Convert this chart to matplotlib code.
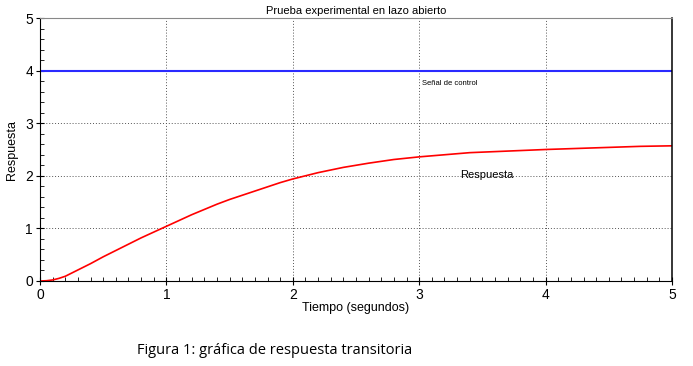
import matplotlib
matplotlib.use('Agg')
import matplotlib.pyplot as plt
from matplotlib.ticker import MultipleLocator

plt.rcParams['font.family'] = ['Liberation Sans', 'DejaVu Sans']

# Data
tiempo = [0, 0.05, 0.1, 0.15, 0.2, 0.25, 0.3, 0.4, 0.5, 0.6, 0.7, 0.8, 0.9,
          1.0, 1.1, 1.2, 1.3, 1.4, 1.5, 1.6, 1.7, 1.8, 1.9, 2.0, 2.2, 2.4,
          2.6, 2.8, 3.0, 3.2, 3.4, 3.6, 3.8, 4.0, 4.25, 4.5, 4.75, 5.0]
respuesta = [0, 0.005, 0.02, 0.05, 0.09, 0.15, 0.21, 0.33, 0.46, 0.58, 0.70, 0.82, 0.93,
             1.04, 1.15, 1.26, 1.36, 1.46, 1.55, 1.63, 1.71, 1.79, 1.87, 1.94, 2.06, 2.16,
             2.24, 2.31, 2.36, 2.40, 2.44, 2.46, 2.48, 2.50, 2.52, 2.54, 2.56, 2.57]
control_t = [0, 5]
control = [4, 4]

fig = plt.figure(figsize=(6.93, 3.66), dpi=100)
ax = fig.add_axes([40 / 693, 1 - 281 / 366, 632 / 693, 263 / 366])

ax.plot(control_t, control, color='#2a2aff', linewidth=1.5)
ax.plot(tiempo, respuesta, color='#ff0000', linewidth=1.2)

ax.set_xlim(0, 5)
ax.set_ylim(0, 5)
ax.xaxis.set_major_locator(MultipleLocator(1))
ax.xaxis.set_minor_locator(MultipleLocator(0.1))
ax.yaxis.set_major_locator(MultipleLocator(1))
ax.yaxis.set_minor_locator(MultipleLocator(0.2))
ax.tick_params(which='major', direction='inout', length=6, width=0.8,
               labelsize=10, top=False, right=False, pad=2)
ax.tick_params(which='minor', direction='in', length=3, width=0.6,
               top=False, right=False)

ax.grid(True, which='major', linestyle=(0, (1, 2)), color='#555555', linewidth=0.7)

for side in ['left', 'bottom', 'right']:
    ax.spines[side].set_color('black')
ax.spines['right'].set_linewidth(1.1)
ax.spines['top'].set_color('#888888')

ax.set_title('Prueba experimental en lazo abierto', fontsize=8, pad=3)
ax.set_xlabel('Tiempo (segundos)', fontsize=9, labelpad=0)
ax.set_ylabel('Respuesta', fontsize=9, labelpad=5)

ax.text(3.02, 3.75, 'Señal de control', fontsize=5.5, va='center', ha='left')
ax.text(3.32, 2.02, 'Respuesta', fontsize=8, va='center', ha='left')

fig.text(137 / 693, 1 - 350 / 366, 'Figura 1: gráfica de respuesta transitoria',
         fontsize=10.5, ha='left', va='center', family=['Open Sans', 'DejaVu Sans'])

fig.savefig('out.png', dpi=100, facecolor='white')
